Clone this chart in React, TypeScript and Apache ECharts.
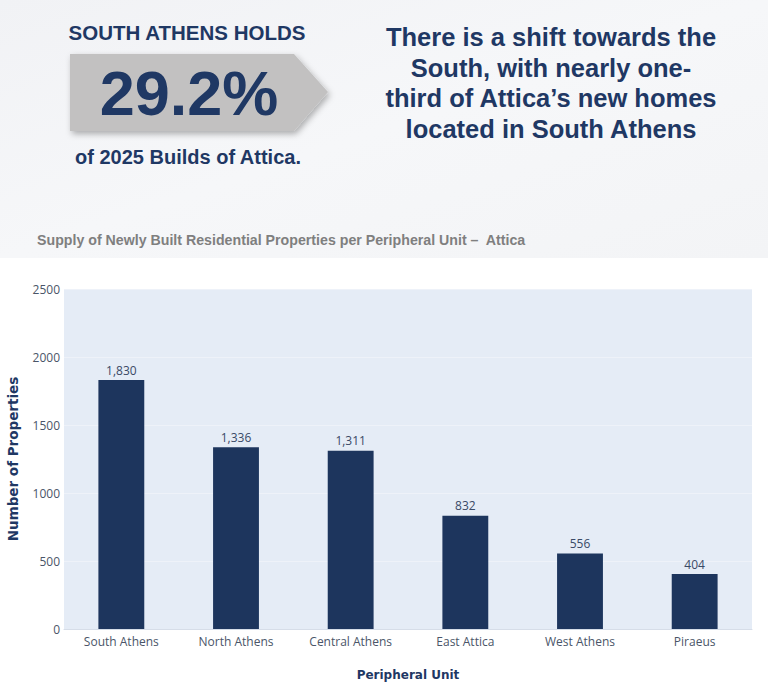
import React, { useEffect, useRef } from "react";
import * as echarts from "echarts";

const categories = ["South Athens", "North Athens", "Central Athens", "East Attica", "West Athens", "Piraeus"];
const values = [1830, 1336, 1311, 832, 556, 404];
const headline = "SOUTH ATHENS HOLDS";
const bigNumber = "29.2%";
const subline = "of 2025 Builds of Attica.";
const statement = ["There is a shift towards the", "South, with nearly one-", "third of Attica\u2019s new homes", "located in South Athens"];
const chartTitle = "Supply of Newly Built Residential Properties per Peripheral Unit \u2013  Attica";

const NAVY = "#1f3864";

export default function App() {
  const ref = useRef<HTMLDivElement>(null);
  useEffect(() => {
    const chart = echarts.init(ref.current!, null, { renderer: "svg" });
    const graphic: any[] = [
      {
        type: "rect",
        shape: { x: 0, y: 0, width: 768, height: 258 },
        style: {
          fill: new echarts.graphic.LinearGradient(0, 0, 1, 1, [
            { offset: 0, color: "#f1f2f5" },
            { offset: 0.5, color: "#f6f7f9" },
            { offset: 1, color: "#f3f4f6" },
          ]),
        },
        z: -10,
      },
      {
        type: "polygon",
        shape: { points: [[70, 54], [294, 54], [328, 92], [294, 131], [70, 131]] },
        style: { fill: "#c2c1c1", shadowBlur: 6, shadowColor: "rgba(0,0,0,0.3)", shadowOffsetX: 2, shadowOffsetY: 3 },
      },
      {
        type: "text",
        x: 187, y: 32,
        style: { text: headline, font: "bold 20.5px 'Liberation Sans', Arial, sans-serif", fill: NAVY, align: "center", verticalAlign: "middle" },
      },
      {
        type: "text",
        x: 189, y: 93,
        style: { text: bigNumber, font: "bold 63px 'Liberation Sans', Arial, sans-serif", fill: NAVY, align: "center", verticalAlign: "middle" },
      },
      {
        type: "text",
        x: 188, y: 157,
        style: { text: subline, font: "bold 20px 'Liberation Sans', Arial, sans-serif", fill: NAVY, align: "center", verticalAlign: "middle" },
      },
      ...statement.map((line, i) => ({
        type: "text",
        x: 551, y: 37 + i * 30.5,
        style: { text: line, font: "bold 25.5px 'Liberation Sans', Arial, sans-serif", fill: NAVY, align: "center", verticalAlign: "middle" },
      })),
      {
        type: "text",
        x: 37, y: 240,
        style: { text: chartTitle, font: "bold 14.2px 'Liberation Sans', Arial, sans-serif", fill: "#7f7f7f", align: "left", verticalAlign: "middle" },
      },
    ];
    chart.setOption({
      animation: false,
      backgroundColor: "#ffffff",
      graphic,
      grid: {
        left: 64, right: 16, top: 289, bottom: 55,
        show: true, backgroundColor: "#e5ecf6", borderWidth: 0,
        outerBoundsMode: "none", containLabel: false,
      },
      xAxis: {
        type: "category",
        data: categories,
        name: "Peripheral Unit",
        nameLocation: "middle",
        nameGap: 40,
        nameTextStyle: { fontFamily: "DejaVu Sans", fontWeight: "bold", fontSize: 12, color: NAVY },
        axisLine: { show: true, lineStyle: { color: "#d6dde8" } },
        axisTick: { show: false },
        axisLabel: { fontFamily: "Open Sans", fontSize: 12, color: "#4a5568", margin: 6 },
      },
      yAxis: {
        type: "value",
        min: 0,
        max: 2500,
        interval: 500,
        name: "Number of Properties",
        nameLocation: "middle",
        nameGap: 44,
        nameTextStyle: { fontFamily: "DejaVu Sans", fontWeight: "bold", fontSize: 13.5, color: NAVY },
        axisLine: { show: false },
        axisTick: { show: false },
        splitLine: { lineStyle: { color: "#eef2f9", width: 1 } },
        axisLabel: { fontFamily: "Open Sans", fontSize: 12, color: "#4a5568", margin: 4, formatter: (v: number) => String(v) },
      },
      series: [
        {
          type: "bar",
          data: values,
          barWidth: "40%",
          itemStyle: { color: "#1d355d" },
          label: {
            show: true,
            position: "top",
            distance: 4,
            fontFamily: "Open Sans",
            fontSize: 12,
            color: "#3a4a66",
            formatter: (p: any) => Number(p.value).toLocaleString("en-US"),
          },
        },
      ],
    });
    return () => chart.dispose();
  }, []);
  return <div ref={ref} style={{ position: "fixed", left: 0, top: 0, width: 768, height: 684 }} />;
}
